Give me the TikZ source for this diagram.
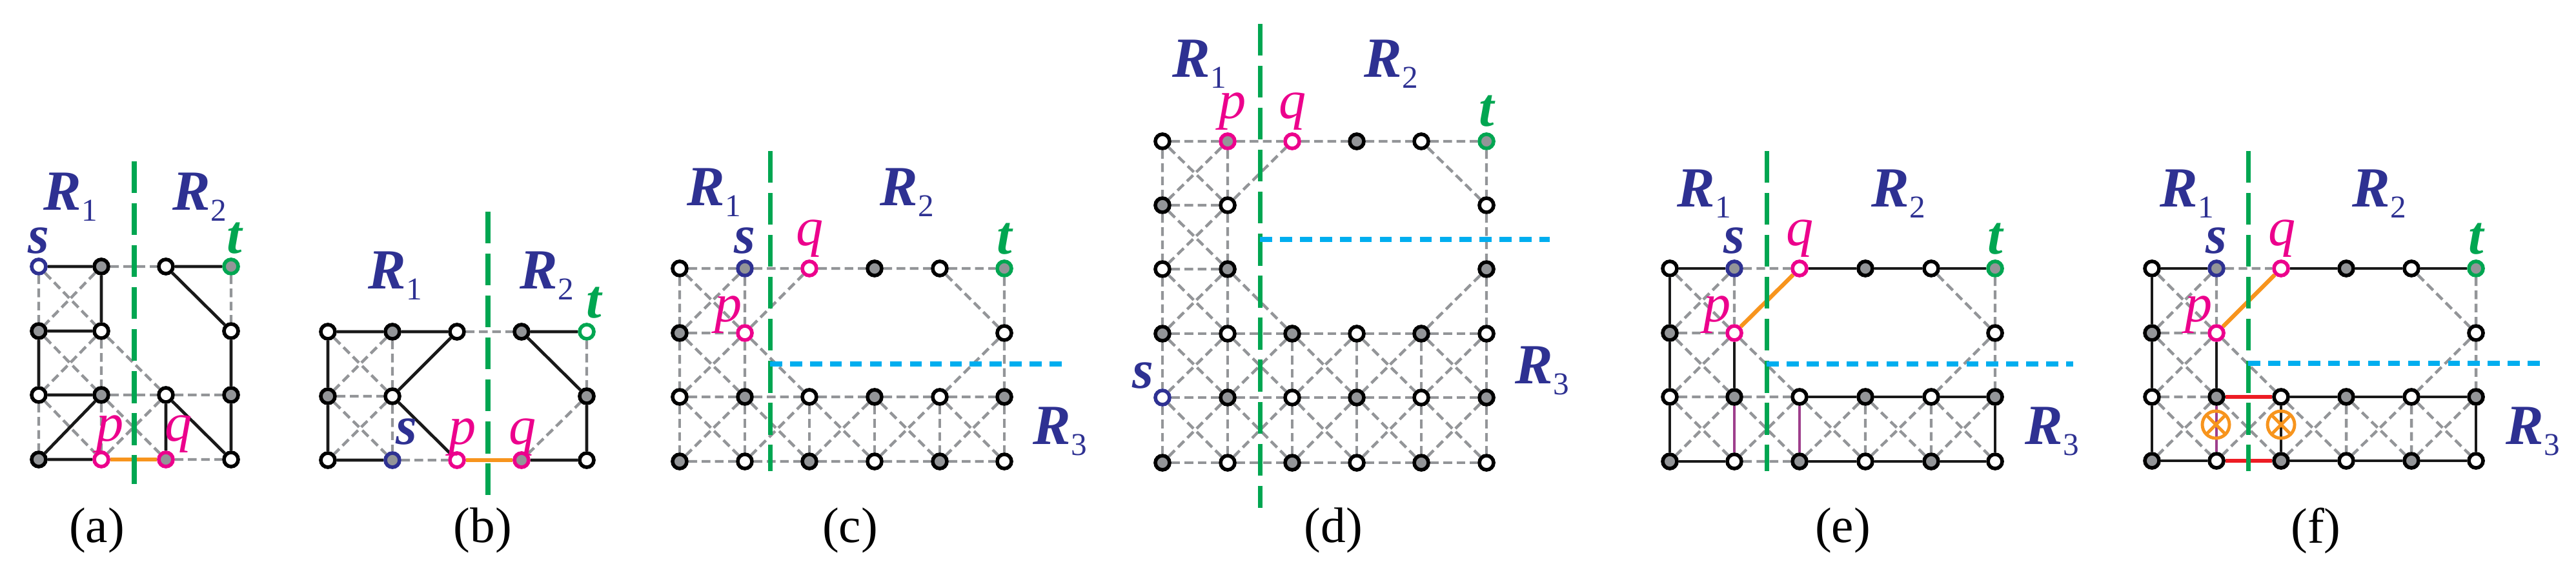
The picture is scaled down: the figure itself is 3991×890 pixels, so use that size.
\documentclass[tikz,border=0pt]{standalone}
\usepackage{fontspec}
\setmainfont{Liberation Serif}[BoldFont={* Bold},ItalicFont={* Italic},BoldItalicFont={* Bold Italic}]
\definecolor{cgray}{HTML}{939598}
\definecolor{cblue}{HTML}{2E3192}
\definecolor{cgreen}{HTML}{00A651}
\definecolor{cpink}{HTML}{EC008C}
\definecolor{corange}{HTML}{F7941D}
\definecolor{ccyan}{HTML}{00AEEF}
\definecolor{cred}{HTML}{ED1C24}
\definecolor{cpurple}{HTML}{9E3F8C}
\newcommand\Row[4]{\foreach \c/\x/\s in {#4}{\node[\s] (#1\c#2) at (\x,#3) {};}}
\newcommand\Rl[1]{{\fontsize{25}{25}\selectfont\bfseries\itshape R}\raisebox{-5pt}{\fontsize{14}{14}\selectfont #1}}
\begin{document}
\begin{tikzpicture}[x=0.01cm,y=-0.01cm,
  vtx/.style={circle,line width=1.6pt,inner sep=0pt,minimum size=0.22cm},
  W/.style={vtx,draw=black,fill=white}, G/.style={vtx,draw=black,fill=cgray},
  Wb/.style={vtx,draw=cblue,fill=white}, Gb/.style={vtx,draw=cblue,fill=cgray},
  Wp/.style={vtx,draw=cpink,fill=white}, Gp/.style={vtx,draw=cpink,fill=cgray},
  Wg/.style={vtx,draw=cgreen,fill=white}, Gg/.style={vtx,draw=cgreen,fill=cgray},
  bk/.style={draw=black!90,line width=1.35pt},
  gd/.style={draw=cgray,line width=1.25pt,dash pattern=on 3.8pt off 2pt},
  og/.style={draw=corange,line width=1.8pt},
  rd/.style={draw=cred,line width=1.8pt},
  pu/.style={draw=cpurple,line width=1.2pt},
  grn/.style={draw=cgreen,line width=2pt,dash pattern=on 14pt off 4.5pt},
  cyn/.style={draw=ccyan,line width=2.3pt,dash pattern=on 5.3pt off 3.5pt},
  lab/.style={inner sep=0pt,anchor=base},
  Rlab/.style={inner sep=0pt,anchor=base west,text=cblue},
  sl/.style={lab,text=cblue,font=\fontsize{24}{24}\selectfont\bfseries\itshape},
  tl/.style={lab,text=cgreen,font=\fontsize{24}{24}\selectfont\bfseries\itshape},
  pl/.style={lab,text=cpink,font=\fontsize{24}{24}\selectfont\itshape},
  capt/.style={inner sep=0pt,font=\fontsize{22}{22}\selectfont},
  otim/.style={circle,draw=corange,line width=1.4pt,minimum size=0.42cm,inner sep=0pt,
    path picture={\draw[corange,line width=1.4pt] (path picture bounding box.north west)--(path picture bounding box.south east) (path picture bounding box.north east)--(path picture bounding box.south west);}}]
\useasboundingbox (0,0) rectangle (3991,890);

% ---------------- (a)
\Row{a}{0}{413}{0/60/Wb,1/157/G,2/257/W,3/358/Gg}
\Row{a}{1}{513}{0/60/G,1/157/W,3/358/W}
\Row{a}{2}{612}{0/60/W,1/157/G,2/257/W,3/358/G}
\Row{a}{3}{712}{0/60/G,1/157/Wp,2/257/Gp,3/358/W}
\draw[gd] (a10)--(a20) (a00)--(a01) (a00)--(a11) (a10)--(a01) (a30)--(a31) (a01)--(a12) (a11)--(a02) (a11)--(a12) (a11)--(a22) (a12)--(a22) (a22)--(a32) (a02)--(a03) (a02)--(a13) (a12)--(a13) (a12)--(a23) (a13)--(a22) (a23)--(a33);
\draw[bk] (a00)--(a10) (a10)--(a11) (a01)--(a11) (a01)--(a02) (a02)--(a12) (a12)--(a03) (a03)--(a13) (a20)--(a30) (a20)--(a31) (a31)--(a32) (a32)--(a33) (a22)--(a23) (a22)--(a33);
\draw[og] (a13)--(a23);
\draw[grn] (208,250)--(208,750);
\node[Rlab] (aR1) at (67,325) {\Rl{1}};
\node[Rlab] (aR2) at (267,325) {\Rl{2}};
\node[sl] (as) at (60,392) {s};
\node[tl] (at) at (363,392) {t};
\node[pl] (ap) at (171,683) {p};
\node[pl] (aq) at (277,683) {q};
\node[capt] (acap) at (150,822) {(a)};

% ---------------- (b)
\Row{b}{0}{514}{0/508/W,1/608/G,2/708/W,3/808/G,4/909/Wg}
\Row{b}{1}{614}{0/508/G,1/608/W,4/909/G}
\Row{b}{2}{713}{0/508/W,1/608/Gb,2/708/Wp,3/808/Gp,4/909/W}
\draw[gd] (b20)--(b30) (b40)--(b41) (b00)--(b11) (b10)--(b01) (b10)--(b11) (b01)--(b11) (b01)--(b12) (b11)--(b02) (b11)--(b12) (b12)--(b22) (b32)--(b41);
\draw[bk] (b00)--(b10) (b10)--(b20) (b20)--(b11) (b00)--(b01) (b01)--(b02) (b02)--(b12) (b11)--(b22) (b30)--(b40) (b30)--(b41) (b41)--(b42) (b32)--(b42);
\draw[og] (b22)--(b32);
\draw[grn] (756,328)--(756,767);
\node[Rlab] (bR1) at (570,447) {\Rl{1}};
\node[Rlab] (bR2) at (805,447) {\Rl{2}};
\node[tl] (bt) at (920,492) {t};
\node[sl] (bs) at (630,688) {s};
\node[pl] (bp) at (717,688) {p};
\node[pl] (bq) at (810,688) {q};
\node[capt] (bcap) at (748,822) {(b)};

% ---------------- (c)
\Row{c}{0}{416}{0/1053/W,1/1154/Gb,2/1254/Wp,3/1355/G,4/1456/W,5/1556/Gg}
\Row{c}{1}{516}{0/1053/G,1/1154/Wp,5/1556/W}
\Row{c}{2}{615}{0/1053/W,1/1154/G,2/1254/W,3/1355/G,4/1456/W,5/1556/G}
\Row{c}{3}{715}{0/1053/G,1/1154/W,2/1254/G,3/1355/W,4/1456/G,5/1556/W}
\draw[gd] (c00)--(c10) (c10)--(c20) (c20)--(c30) (c30)--(c40) (c40)--(c50)
 (c00)--(c01) (c10)--(c11) (c00)--(c11) (c10)--(c01) (c01)--(c11) (c11)--(c20) (c40)--(c51) (c50)--(c51)
 (c01)--(c02) (c11)--(c12) (c01)--(c12) (c11)--(c02) (c11)--(c22) (c51)--(c42) (c51)--(c52);
\foreach \i [evaluate=\i as \j using int(\i+1)] in {0,...,4}{\draw[gd] (c\i2)--(c\j2) (c\i3)--(c\j3) (c\i2)--(c\j3) (c\j2)--(c\i3);}
\foreach \i in {0,...,5}{\draw[gd] (c\i2)--(c\i3);}
\draw[grn] (1193,234)--(1193,730);
\draw[cyn] (1193,564)--(1645,564);
\node[Rlab] (cR1) at (1064,318) {\Rl{1}};
\node[Rlab] (cR2) at (1363,318) {\Rl{2}};
\node[Rlab] (cR3) at (1600,688) {\Rl{3}};
\node[sl] (cs) at (1154,392) {s};
\node[pl] (cq) at (1255,380) {q};
\node[tl] (ct) at (1556,393) {t};
\node[pl] (cp) at (1129,498) {p};
\node[capt] (ccap) at (1317,822) {(c)};

% ---------------- (d)
\Row{d}{0}{219}{0/1801/W,1/1902/Gp,2/2002/Wp,3/2102/G,4/2202/W,5/2303/Gg}
\Row{d}{1}{318}{0/1801/G,1/1902/W,5/2303/W}
\Row{d}{2}{417}{0/1801/W,1/1902/G,5/2303/G}
\Row{d}{3}{517}{0/1801/G,1/1902/W,2/2002/G,3/2102/W,4/2202/G,5/2303/W}
\Row{d}{4}{616}{0/1801/Wb,1/1902/G,2/2002/W,3/2102/G,4/2202/W,5/2303/G}
\Row{d}{5}{717}{0/1801/G,1/1902/W,2/2002/G,3/2102/W,4/2202/G,5/2303/W}
\draw[gd] (d00)--(d10) (d10)--(d20) (d20)--(d30) (d30)--(d40) (d40)--(d50)
 (d00)--(d01) (d10)--(d11) (d00)--(d11) (d10)--(d01) (d01)--(d11) (d11)--(d20) (d40)--(d51) (d50)--(d51)
 (d01)--(d02) (d11)--(d12) (d01)--(d12) (d11)--(d02) (d02)--(d12) (d51)--(d52)
 (d02)--(d03) (d12)--(d13) (d02)--(d13) (d12)--(d03) (d12)--(d23) (d52)--(d43) (d52)--(d53);
\foreach \i [evaluate=\i as \j using int(\i+1)] in {0,...,4}{
  \foreach \r [evaluate=\r as \s using int(\r+1)] in {3,4}{\draw[gd] (d\i\r)--(d\j\s) (d\j\r)--(d\i\s);}
  \foreach \r in {3,4,5}{\draw[gd] (d\i\r)--(d\j\r);}}
\foreach \i in {0,...,5}{\draw[gd] (d\i3)--(d\i4) (d\i4)--(d\i5);}
\draw[grn] (1952,37)--(1952,787);
\draw[cyn] (1952,371)--(2401,371);
\node[Rlab] (dR1) at (1816,119) {\Rl{1}};
\node[Rlab] (dR2) at (2113,119) {\Rl{2}};
\node[Rlab] (dR3) at (2347,594) {\Rl{3}};
\node[pl] (dp) at (1910,183) {p};
\node[pl] (dq) at (2003,183) {q};
\node[tl] (dt) at (2303,195) {t};
\node[sl] (ds) at (1771,601) {s};
\node[capt] (dcap) at (2066,822) {(d)};

% ---------------- (e)
\Row{e}{0}{416}{0/2587/W,1/2687/Gb,2/2788/Wp,3/2890/G,4/2992/W,5/3091/Gg}
\Row{e}{1}{516}{0/2587/G,1/2687/Wp,5/3091/W}
\Row{e}{2}{615}{0/2587/W,1/2687/G,2/2788/W,3/2890/G,4/2992/W,5/3091/G}
\Row{e}{3}{715}{0/2587/G,1/2687/W,2/2788/G,3/2890/W,4/2992/G,5/3091/W}
\draw[gd] (e10)--(e20) (e10)--(e11) (e00)--(e11) (e10)--(e01) (e01)--(e11) (e40)--(e51) (e50)--(e51)
 (e01)--(e12) (e11)--(e02) (e11)--(e22) (e51)--(e42) (e51)--(e52) (e02)--(e12) (e12)--(e22)
 (e32)--(e33) (e42)--(e43) (e13)--(e23);
\foreach \i [evaluate=\i as \j using int(\i+1)] in {0,...,4}{\draw[gd] (e\i2)--(e\j3) (e\j2)--(e\i3);}
\draw[bk] (e00)--(e10) (e20)--(e30) (e30)--(e40) (e40)--(e50) (e00)--(e01) (e01)--(e02) (e02)--(e03) (e03)--(e13) (e11)--(e12)
 (e22)--(e32) (e32)--(e42) (e42)--(e52) (e52)--(e53) (e23)--(e33) (e33)--(e43) (e43)--(e53);
\draw[og] (e11)--(e20);
\draw[pu] (e12)--(e13) (e22)--(e23);
\draw[grn] (2737,234)--(2737,730);
\draw[cyn] (2737,564)--(3212,564);
\node[Rlab] (eR1) at (2598,320) {\Rl{1}};
\node[Rlab] (eR2) at (2899,320) {\Rl{2}};
\node[Rlab] (eR3) at (3137,688) {\Rl{3}};
\node[sl] (es) at (2687,392) {s};
\node[pl] (eq) at (2789,380) {q};
\node[tl] (et) at (3091,393) {t};
\node[pl] (ep) at (2661,498) {p};
\node[capt] (ecap) at (2855,822) {(e)};

% ---------------- (f)
\Row{f}{0}{416}{0/3334/W,1/3434/Gb,2/3534/Wp,3/3635/G,4/3736/W,5/3836/Gg}
\Row{f}{1}{516}{0/3334/G,1/3434/Wp,5/3836/W}
\Row{f}{2}{615}{0/3334/W,1/3434/G,2/3534/W,3/3635/G,4/3736/W,5/3836/G}
\Row{f}{3}{714}{0/3334/G,1/3434/W,2/3534/G,3/3635/W,4/3736/G,5/3836/W}
\draw[gd] (f10)--(f20) (f10)--(f11) (f00)--(f11) (f10)--(f01) (f01)--(f11) (f40)--(f51) (f50)--(f51)
 (f01)--(f12) (f11)--(f02) (f11)--(f22) (f51)--(f42) (f51)--(f52) (f02)--(f12)
 (f32)--(f33) (f42)--(f43);
\foreach \i [evaluate=\i as \j using int(\i+1)] in {0,...,4}{\draw[gd] (f\i2)--(f\j3) (f\j2)--(f\i3);}
\draw[bk] (f00)--(f10) (f20)--(f30) (f30)--(f40) (f40)--(f50) (f00)--(f01) (f01)--(f02) (f02)--(f03) (f11)--(f12)
 (f22)--(f32) (f32)--(f42) (f42)--(f52) (f52)--(f53) (f03)--(f13) (f23)--(f33) (f33)--(f43) (f43)--(f53) (f22)--(f23);
\draw[rd] (f12)--(f22) (f13)--(f23);
\draw[pu] (f12)--(f13);
\draw[og] (f11)--(f20);
\node[otim] (fx1) at (3433,658) {};
\node[otim] (fx2) at (3534,658) {};
\draw[grn] (3483,234)--(3483,730);
\draw[cyn] (3483,563)--(3947,563);
\node[Rlab] (fR1) at (3346,320) {\Rl{1}};
\node[Rlab] (fR2) at (3644,320) {\Rl{2}};
\node[Rlab] (fR3) at (3882,688) {\Rl{3}};
\node[sl] (fs) at (3434,392) {s};
\node[pl] (fq) at (3536,380) {q};
\node[tl] (ft) at (3836,393) {t};
\node[pl] (fp) at (3407,498) {p};
\node[capt] (fcap) at (3588,822) {(f)};
\end{tikzpicture}
\end{document}
